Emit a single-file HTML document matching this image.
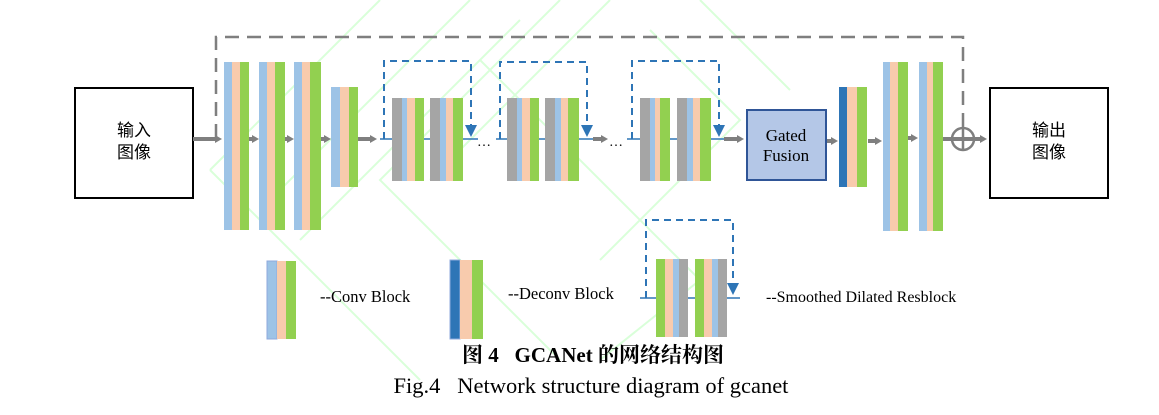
<!DOCTYPE html>
<html><head><meta charset="utf-8"><style>
html,body{margin:0;padding:0;background:#fff;}
svg{display:block;}
text{font-family:"Liberation Serif","Noto Serif CJK SC",serif;}
.cjk{font-family:"Liberation Sans","Noto Sans CJK SC",sans-serif;}
</style></head><body>
<svg width="1159" height="415" viewBox="0 0 1159 415" xmlns="http://www.w3.org/2000/svg">
<defs>
<marker id="ga" markerWidth="7" markerHeight="8" refX="1" refY="4" orient="auto" markerUnits="userSpaceOnUse"><path d="M0,0 L7,4 L0,8 Z" fill="#7f7f7f"/></marker>
</defs>
<g stroke="#cfffcf" stroke-width="2" fill="none" opacity="0.8">
<path d="M210,170 L380,0 M210,170 L420,380 M260,210 L470,0 M300,240 L520,20 M560,0 L380,180 L560,360 M610,0 L430,180 M650,30 L740,120 L600,260 M480,60 L700,280 L600,360 M700,0 L790,90"/>
</g>
<rect x="75" y="88" width="118" height="110" fill="#fff" stroke="#000" stroke-width="2"/>
<text class="cjk" x="134" y="136" font-size="17" text-anchor="middle">输入</text>
<text class="cjk" x="134" y="158" font-size="17" text-anchor="middle">图像</text>
<rect x="990" y="88" width="118" height="110" fill="#fff" stroke="#000" stroke-width="2"/>
<text class="cjk" x="1049" y="136" font-size="17" text-anchor="middle">输出</text>
<text class="cjk" x="1049" y="158" font-size="17" text-anchor="middle">图像</text>
<path d="M216,138 V37 H963 V127" fill="none" stroke="#7f7f7f" stroke-width="2.5" stroke-dasharray="14,8"/>
<g stroke="#7f7f7f" stroke-width="4" marker-end="url(#ga)">
<line x1="193" y1="139" x2="216" y2="139"/>
<line x1="249" y1="139" x2="253" y2="139"/>
<line x1="285" y1="139" x2="288" y2="139"/>
<line x1="321" y1="139" x2="325" y2="139"/>
<line x1="358" y1="139" x2="371" y2="139"/>
<line x1="593" y1="139" x2="602" y2="139"/>
<line x1="724" y1="139" x2="738" y2="139"/>
<line x1="827" y1="141" x2="832" y2="141"/>
<line x1="868" y1="141" x2="876" y2="141"/>
<line x1="906" y1="138" x2="912" y2="138"/>
<line x1="943" y1="139" x2="981" y2="139"/>
</g>
<circle cx="963" cy="139" r="11" fill="none" stroke="#7f7f7f" stroke-width="2.5"/>
<line x1="963" y1="127" x2="963" y2="151" stroke="#7f7f7f" stroke-width="2.5"/>
<g>
<rect x="224" y="62" width="8" height="168" fill="#9dc3e6"/><rect x="232" y="62" width="8" height="168" fill="#f8cbad"/><rect x="240" y="62" width="9" height="168" fill="#92d050"/>
<rect x="259" y="62" width="8" height="168" fill="#9dc3e6"/><rect x="267" y="62" width="8" height="168" fill="#f8cbad"/><rect x="275" y="62" width="10" height="168" fill="#92d050"/>
<rect x="294" y="62" width="8" height="168" fill="#9dc3e6"/><rect x="302" y="62" width="8" height="168" fill="#f8cbad"/><rect x="310" y="62" width="11" height="168" fill="#92d050"/>
<rect x="331" y="87" width="9" height="100" fill="#9dc3e6"/><rect x="340" y="87" width="9" height="100" fill="#f8cbad"/><rect x="349" y="87" width="9" height="100" fill="#92d050"/>
<rect x="883" y="62" width="7" height="169" fill="#9dc3e6"/><rect x="890" y="62" width="8" height="169" fill="#f8cbad"/><rect x="898" y="62" width="10" height="169" fill="#92d050"/>
<rect x="919" y="62" width="8" height="169" fill="#9dc3e6"/><rect x="927" y="62" width="6" height="169" fill="#f8cbad"/><rect x="933" y="62" width="10" height="169" fill="#92d050"/>
<rect x="839" y="87" width="8" height="100" fill="#2e75b6"/><rect x="847" y="87" width="10" height="100" fill="#f8cbad"/><rect x="857" y="87" width="10" height="100" fill="#92d050"/>
</g>
<g stroke="#2e75b6" stroke-width="1.5">
<line x1="380" y1="139" x2="392" y2="139"/><line x1="424" y1="139" x2="430" y2="139"/><line x1="463" y1="139" x2="478" y2="139"/>
<line x1="496" y1="139" x2="507" y2="139"/><line x1="539" y1="139" x2="545" y2="139"/><line x1="579" y1="139" x2="593" y2="139"/>
<line x1="627" y1="139" x2="640" y2="139"/><line x1="670" y1="139" x2="677" y2="139"/><line x1="711" y1="139" x2="724" y2="139"/>
</g>
<g>
<rect x="392" y="98" width="10" height="83" fill="#a5a5a5"/><rect x="402" y="98" width="5" height="83" fill="#9dc3e6"/><rect x="407" y="98" width="8" height="83" fill="#f8cbad"/><rect x="415" y="98" width="9" height="83" fill="#92d050"/>
<rect x="430" y="98" width="10" height="83" fill="#a5a5a5"/><rect x="440" y="98" width="6" height="83" fill="#9dc3e6"/><rect x="446" y="98" width="7" height="83" fill="#f8cbad"/><rect x="453" y="98" width="10" height="83" fill="#92d050"/>
<rect x="507" y="98" width="10" height="83" fill="#a5a5a5"/><rect x="517" y="98" width="5" height="83" fill="#9dc3e6"/><rect x="522" y="98" width="8" height="83" fill="#f8cbad"/><rect x="530" y="98" width="9" height="83" fill="#92d050"/>
<rect x="545" y="98" width="10" height="83" fill="#a5a5a5"/><rect x="555" y="98" width="6" height="83" fill="#9dc3e6"/><rect x="561" y="98" width="7" height="83" fill="#f8cbad"/><rect x="568" y="98" width="11" height="83" fill="#92d050"/>
<rect x="640" y="98" width="10" height="83" fill="#a5a5a5"/><rect x="650" y="98" width="5" height="83" fill="#9dc3e6"/><rect x="655" y="98" width="5" height="83" fill="#f8cbad"/><rect x="660" y="98" width="10" height="83" fill="#92d050"/>
<rect x="677" y="98" width="10" height="83" fill="#a5a5a5"/><rect x="687" y="98" width="6" height="83" fill="#9dc3e6"/><rect x="693" y="98" width="7" height="83" fill="#f8cbad"/><rect x="700" y="98" width="11" height="83" fill="#92d050"/>
</g>
<g fill="none" stroke="#2e75b6" stroke-width="2" stroke-dasharray="7,5">
<path d="M384,139 V61 H471 V128"/>
<path d="M500,139 V62 H587 V128"/>
<path d="M632,139 V61 H719 V128"/>
<path d="M646,298 V220 H733 V285"/>
</g>
<g fill="#2e75b6">
<path d="M465,125 L477,125 L471,137 Z"/>
<path d="M581,125 L593,125 L587,137 Z"/>
<path d="M713,125 L725,125 L719,137 Z"/>
<path d="M727,283 L739,283 L733,295 Z"/>
</g>
<text x="477" y="146" font-size="14">…</text>
<text x="609" y="146" font-size="14">…</text>
<rect x="747" y="110" width="79" height="70" fill="#b4c7e7" stroke="#2f5597" stroke-width="2"/>
<text x="786" y="141" font-size="17" text-anchor="middle">Gated</text>
<text x="786" y="161" font-size="17" text-anchor="middle">Fusion</text>
<rect x="267" y="261" width="10" height="78" fill="#9dc3e6" stroke="#8faadc" stroke-width="1"/><rect x="277" y="261" width="9" height="78" fill="#f8cbad"/><rect x="286" y="261" width="10" height="78" fill="#92d050"/>
<text x="320" y="302" font-size="16.5">--Conv Block</text>
<rect x="450" y="260" width="10" height="79" fill="#2e75b6" stroke="#8faadc" stroke-width="1"/><rect x="460" y="260" width="12" height="79" fill="#f8cbad"/><rect x="472" y="260" width="11" height="79" fill="#92d050"/>
<text x="508" y="299" font-size="16.5">--Deconv Block</text>
<line x1="640" y1="298" x2="740" y2="298" stroke="#2e75b6" stroke-width="1.5"/>
<rect x="656" y="259" width="9" height="78" fill="#92d050"/><rect x="665" y="259" width="8" height="78" fill="#f8cbad"/><rect x="673" y="259" width="6" height="78" fill="#9dc3e6"/><rect x="679" y="259" width="9" height="78" fill="#a5a5a5"/>
<rect x="695" y="259" width="9" height="78" fill="#92d050"/><rect x="704" y="259" width="8" height="78" fill="#f8cbad"/><rect x="712" y="259" width="6" height="78" fill="#9dc3e6"/><rect x="718" y="259" width="9" height="78" fill="#a5a5a5"/>
<text x="766" y="302" font-size="16">--Smoothed Dilated Resblock</text>
<text x="593" y="362" font-size="21" font-weight="bold" text-anchor="middle" xml:space="preserve">图 4   GCANet 的网络结构图</text>
<text x="591" y="393" font-size="22.5" text-anchor="middle" xml:space="preserve">Fig.4   Network structure diagram of gcanet</text>
</svg>
</body></html>
